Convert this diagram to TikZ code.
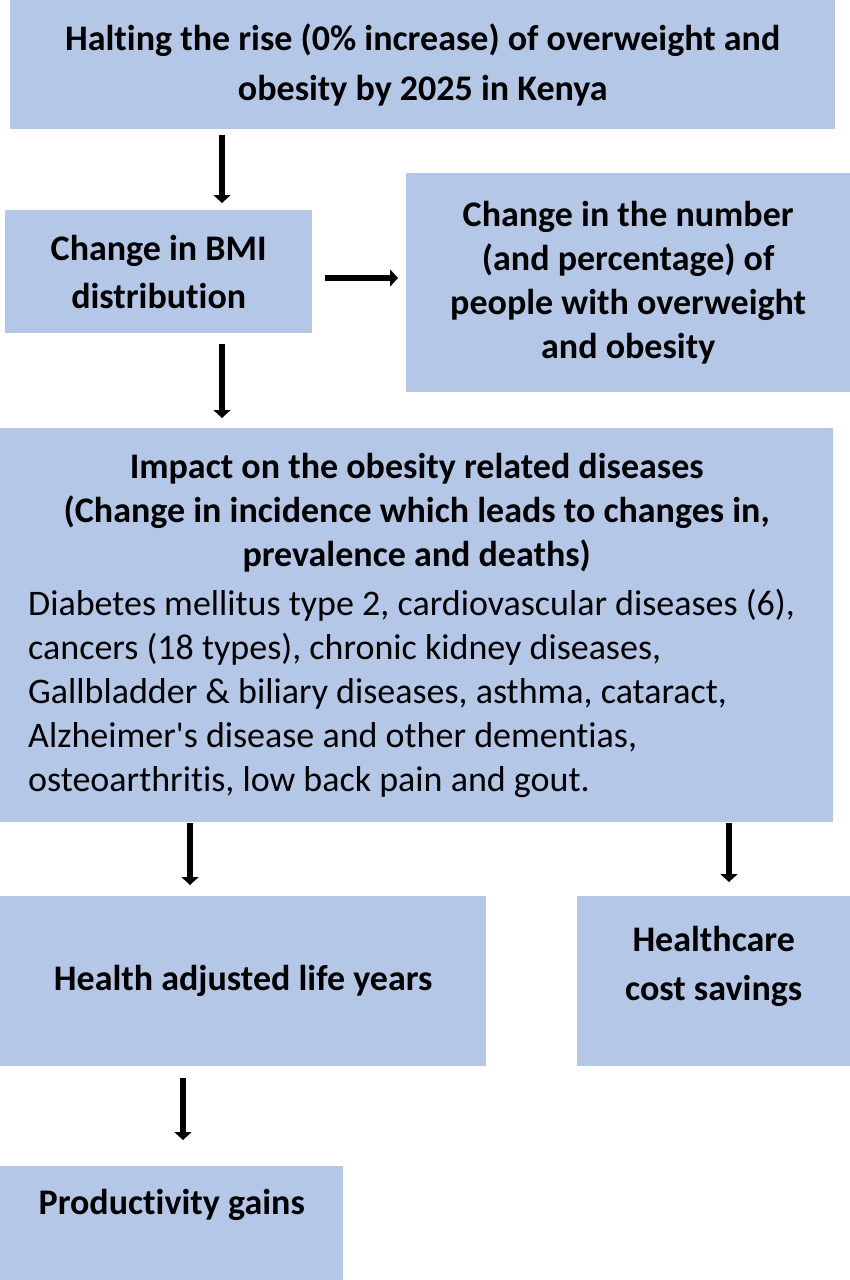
\documentclass[tikz,border=0pt]{standalone}
\usepackage{fontspec}
\setmainfont{Carlito}[Ligatures={NoCommon,TeXOff}]
\usetikzlibrary{arrows.meta}
\definecolor{boxblue}{HTML}{B4C7E7}
\begin{document}
\begin{tikzpicture}[x=1pt,y=-1pt,
  box/.style={fill=boxblue, draw=none, rectangle, inner sep=0pt, anchor=north west, align=center, font=\bfseries\fontsize{36}{44}\selectfont},
  lbl/.style={inner sep=0pt, align=center, font=\bfseries\fontsize{36}{49}\selectfont},
  arr/.style={line width=6.5pt, -{Triangle[width=17pt,length=8pt]}}]
\useasboundingbox (0,0) rectangle (850,1280);

\node[box, minimum width=825pt, minimum height=129pt] (goal) at (10,0)
  {Halting the rise (0\% increase) of overweight and\\[6pt] obesity by 2025 in Kenya};

\node[box, minimum width=307pt, minimum height=123pt] (bmi) at (5,210)
  {Change in BMI\\[4pt] distribution};

\node[box, minimum width=444pt, minimum height=219pt] (num) at (406,173)
  {Change in the number\\ (and percentage) of\\ people with overweight\\ and obesity};

\node[box, minimum width=833pt, minimum height=394pt] (impact) at (0,428)
  {\parbox{833pt}{{\centering Impact on the obesity related diseases\\ (Change in incidence which leads to changes in,\\ prevalence and deaths)\par}\vspace{5pt}%
   {\raggedright\mdseries\leftskip=28pt Diabetes mellitus type 2, cardiovascular diseases (6),\\ cancers (18 types), chronic kidney diseases,\\ Gallbladder \& biliary diseases, asthma, cataract,\\ Alzheimer's disease and other dementias,\\ osteoarthritis, low back pain and gout.\par}}};

\node[box, minimum width=486pt, minimum height=170pt] (hal) at (0,896)
  {Health adjusted life years};

\node[box, minimum width=273pt, minimum height=170pt] (hc) at (577,896) {};
\node[lbl] (hcText) at ([yshift=15pt]hc.center) {Healthcare\\ cost savings};

\node[box, minimum width=343pt, minimum height=114pt] (prod) at (0,1166) {};
\node[lbl] (prodText) at ([yshift=18pt]prod.center) {Productivity gains};

\draw[arr] ([shift={(212,6)}]goal.south west) -- ([shift={(217,-7)}]bmi.north west);
\draw[arr] ([shift={(217,11)}]bmi.south west) -- ([shift={(222,-10)}]impact.north west);
\draw[arr] ([shift={(13,68)}]bmi.north east) -- ([shift={(-8,105)}]num.north west);
\draw[arr] ([shift={(190,1)}]impact.south west) -- ([shift={(190,-11)}]hal.north west);
\draw[arr] ([shift={(729,1)}]impact.south west) -- ([shift={(152,-14)}]hc.north west);
\draw[arr] ([shift={(183,12)}]hal.south west) -- ([shift={(183,-26)}]prod.north west);
\end{tikzpicture}
\end{document}
